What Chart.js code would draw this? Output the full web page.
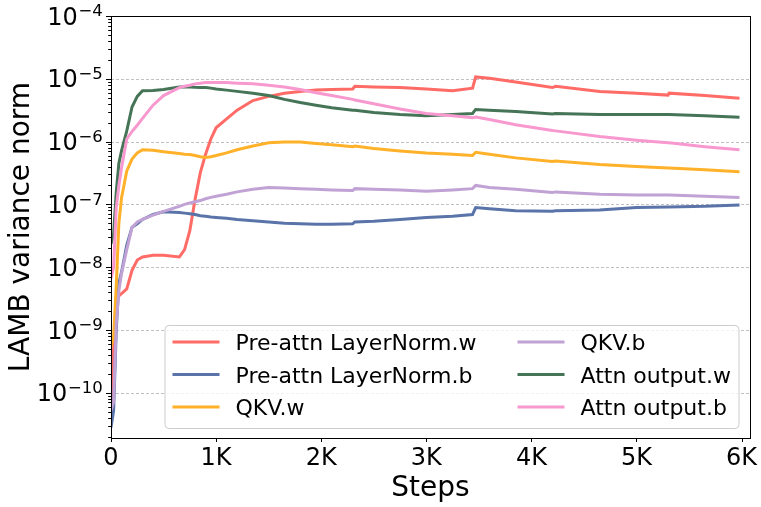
<!DOCTYPE html>
<html>
<head>
<meta charset="utf-8">
<title>LAMB variance norm</title>
<script src="https://cdn.jsdelivr.net/npm/chart.js@4.4.1/dist/chart.umd.min.js"></script>
<style>
  html, body { margin: 0; padding: 0; background: #fff; }
  #wrap { width: 761px; height: 507px; }
</style>
</head>
<body>
<div id="wrap"><canvas id="lambChart"></canvas></div>
<script>
// Pas d'entraînement (abscisse commune)
const steps = [0, 25, 50, 75, 100, 150, 200, 250, 300, 400, 500, 650, 700, 750, 800, 850, 900, 950, 1000, 1100,
  1200, 1350, 1500, 1650, 1800, 1950, 2100, 2300, 2320, 2500, 2750, 3000, 3250, 3440, 3470, 3600, 3850, 4200, 4230,
  4650, 5000, 5300, 5310, 5650, 5980];

// Valeurs
const preAttnLnW = [5.0e-11, 5.0e-10, 3.2e-9, 3.5e-9, 3.8e-9, 4.5e-9, 8.9e-9, 1.3e-8, 1.45e-8, 1.55e-8, 1.55e-8,
  1.45e-8, 1.9e-8, 3.8e-8, 1.2e-7, 3.2e-7, 6.3e-7, 1.1e-6, 1.66e-6, 2.3e-6, 3.16e-6, 4.5e-6, 5.25e-6, 5.9e-6, 6.3e-6,
  6.6e-6, 6.75e-6, 6.9e-6, 7.6e-6, 7.4e-6, 7.25e-6, 6.9e-6, 6.45e-6, 7.1e-6, 1.07e-5, 1.02e-5, 8.9e-6, 7.25e-6, 7.6e-6,
  6.3e-6, 5.9e-6, 5.5e-6, 5.9e-6, 5.4e-6, 4.9e-6];
const preAttnLnB = [2.8e-11, 5.25e-11, 1.0e-9, 5.6e-9, 8.3e-9, 2.24e-8, 4.3e-8, 4.9e-8, 5.75e-8, 6.9e-8, 7.6e-8,
  7.4e-8, 7.25e-8, 7.1e-8, 6.9e-8, 6.6e-8, 6.45e-8, 6.3e-8, 6.2e-8, 6.0e-8, 5.75e-8, 5.5e-8, 5.25e-8, 5.0e-8, 4.9e-8,
  4.8e-8, 4.8e-8, 4.9e-8, 5.25e-8, 5.4e-8, 5.75e-8, 6.2e-8, 6.45e-8, 6.9e-8, 8.9e-8, 8.5e-8, 7.9e-8, 7.75e-8, 7.9e-8,
  8.1e-8, 8.9e-8, 9.1e-8, 9.1e-8, 9.3e-8, 9.8e-8];
const qkvW = [5.4e-10, 7.9e-10, 5.0e-9, 5.0e-8, 1.26e-7, 3.4e-7, 5.25e-7, 6.6e-7, 7.4e-7, 7.25e-7, 6.9e-7,
  6.45e-7, 6.3e-7, 6.2e-7, 6.0e-7, 5.75e-7, 5.6e-7, 5.75e-7, 6.0e-7, 6.6e-7, 7.4e-7, 8.5e-7, 9.55e-7, 9.8e-7, 9.8e-7,
  9.3e-7, 8.9e-7, 8.3e-7, 8.5e-7, 7.75e-7, 7.1e-7, 6.6e-7, 6.3e-7, 6.0e-7, 6.75e-7, 6.3e-7, 5.5e-7, 4.8e-7, 4.9e-7,
  4.3e-7, 4.0e-7, 3.8e-7, 3.8e-7, 3.55e-7, 3.3e-7];
const qkvB = [5.25e-11, 7.1e-11, 1.26e-9, 4.2e-9, 7.9e-9, 1.9e-8, 4.3e-8, 5.25e-8, 5.75e-8, 6.75e-8, 7.75e-8,
  9.3e-8, 1.0e-7, 1.05e-7, 1.1e-7, 1.15e-7, 1.23e-7, 1.29e-7, 1.35e-7, 1.45e-7, 1.58e-7, 1.74e-7, 1.86e-7, 1.82e-7, 1.78e-7,
  1.74e-7, 1.7e-7, 1.66e-7, 1.78e-7, 1.74e-7, 1.7e-7, 1.62e-7, 1.7e-7, 1.78e-7, 2.0e-7, 1.86e-7, 1.74e-7, 1.55e-7, 1.58e-7,
  1.45e-7, 1.41e-7, 1.41e-7, 1.41e-7, 1.35e-7, 1.29e-7];
const attnOutW = [2.34e-8, 3.4e-8, 1.58e-7, 4.5e-7, 7.1e-7, 1.48e-6, 3.55e-6, 5.25e-6, 6.45e-6, 6.5e-6, 6.75e-6,
  7.4e-6, 7.4e-6, 7.4e-6, 7.3e-6, 7.25e-6, 7.25e-6, 7.1e-6, 6.9e-6, 6.6e-6, 6.3e-6, 5.9e-6, 5.4e-6, 4.7e-6, 4.2e-6,
  3.8e-6, 3.45e-6, 3.16e-6, 3.16e-6, 2.9e-6, 2.7e-6, 2.57e-6, 2.7e-6, 2.8e-6, 3.25e-6, 3.16e-6, 3.0e-6, 2.75e-6, 2.8e-6,
  2.7e-6, 2.7e-6, 2.7e-6, 2.7e-6, 2.57e-6, 2.45e-6];
const attnOutB = [6.6e-9, 1.0e-8, 8.9e-8, 2.0e-7, 3.8e-7, 1.1e-6, 1.45e-6, 1.82e-6, 2.34e-6, 3.8e-6, 5.4e-6,
  7.25e-6, 7.6e-6, 7.9e-6, 8.3e-6, 8.5e-6, 8.7e-6, 8.7e-6, 8.7e-6, 8.7e-6, 8.5e-6, 8.3e-6, 7.9e-6, 7.4e-6, 6.75e-6,
  6.0e-6, 5.4e-6, 4.7e-6, 4.6e-6, 4.0e-6, 3.3e-6, 2.8e-6, 2.57e-6, 2.4e-6, 2.45e-6, 2.24e-6, 1.86e-6, 1.5e-6, 1.48e-6,
  1.2e-6, 1.05e-6, 9.55e-7, 9.55e-7, 8.3e-7, 7.4e-7];

const seriesLabels = ['Pre-attn LayerNorm.w', 'Pre-attn LayerNorm.b', 'QKV.w', 'QKV.b', 'Attn output.w', 'Attn output.b'];
const seriesColors = ['#ff6b66', '#5a74a9', '#ffb12a', '#c0a2d5', '#457457', '#f799cf'];

// Graduations
const xTicks = [0, 1000, 2000, 3000, 4000, 5000, 6000];
const xTickLabels = ['0', '1K', '2K', '3K', '4K', '5K', '6K'];
const yTicks = [1e-10, 1e-9, 1e-8, 1e-7, 1e-6, 1e-5, 1e-4];
const yTickExponents = ['−10', '−9', '−8', '−7', '−6', '−5', '−4'];

const yMin = 1.9e-11, yMax = 1e-4;
const xMax = 6080;

Chart.defaults.font.family = '"DejaVu Sans", sans-serif';
Chart.defaults.color = '#000';

// Petites graduations du log
function minorTicks() {
  const out = [];
  for (let e = -12; e <= -5; e++) {
    for (let m = 2; m <= 9; m++) {
      const v = m * Math.pow(10, e);
      if (v > yMin && v < yMax) out.push(v);
    }
  }
  return out;
}

const allSeries = [preAttnLnW, preAttnLnB, qkvW, qkvB, attnOutW, attnOutB];
const datasets = allSeries.map((vals, i) => ({
  label: seriesLabels[i],
  data: steps.map((s, j) => ({ x: s, y: vals[j] })),
  borderColor: seriesColors[i],
  backgroundColor: seriesColors[i],
  borderWidth: 3,
  pointRadius: 0,
  tension: 0,
  fill: false,
  order: allSeries.length - i
}));

// Grille, cadre, graduations et légende
const decor = {
  id: 'decor',
  beforeDatasetsDraw(chart) {
    const { ctx, chartArea: a, scales: { y } } = chart;
    ctx.save();
    ctx.strokeStyle = '#b0b0b0';
    ctx.lineWidth = 0.8;
    ctx.setLineDash([3, 2]);
    yTicks.slice(0, -1).forEach(v => {
      const py = Math.round(y.getPixelForValue(v)) + 0.5;
      ctx.beginPath();
      ctx.moveTo(a.left, py);
      ctx.lineTo(a.right, py);
      ctx.stroke();
    });
    ctx.restore();
  },
  afterDatasetsDraw(chart) {
    const { ctx, chartArea: a, scales: { x, y } } = chart;
    ctx.save();
    ctx.strokeStyle = '#000';
    ctx.lineWidth = 1;
    ctx.strokeRect(Math.round(a.left) + 0.5, Math.round(a.top) + 0.5,
      Math.round(a.right - a.left), Math.round(a.bottom - a.top));
    ctx.beginPath();
    yTicks.forEach(v => {
      const py = Math.round(y.getPixelForValue(v)) + 0.5;
      ctx.moveTo(a.left, py);
      ctx.lineTo(a.left - 5, py);
    });
    minorTicks().forEach(v => {
      const py = Math.round(y.getPixelForValue(v)) + 0.5;
      ctx.moveTo(a.left, py);
      ctx.lineTo(a.left - 2.8, py);
    });
    xTicks.forEach(v => {
      const px = Math.round(x.getPixelForValue(v)) + 0.5;
      ctx.moveTo(px, a.bottom);
      ctx.lineTo(px, a.bottom + 4);
    });
    ctx.stroke();

    // étiquettes 10^n de l'axe y
    ctx.fillStyle = '#000';
    ctx.textAlign = 'right';
    ctx.textBaseline = 'alphabetic';
    yTicks.forEach((v, i) => {
      const py = y.getPixelForValue(v);
      const right = a.left - 8.3;
      ctx.font = '16.5px "DejaVu Sans"';
      const ew = ctx.measureText(yTickExponents[i]).width;
      ctx.fillText(yTickExponents[i], right, py + 0.4);
      ctx.font = '24px "DejaVu Sans"';
      ctx.fillText('10', right - ew - 0.5, py + 8.7);
    });
    ctx.restore();
  },
  afterDraw(chart) {
    const { ctx, chartArea: a } = chart;
    const w = 574, h = 103;
    const left = a.right - 11.5 - w, top = a.bottom - 10 - h;
    ctx.save();
    ctx.fillStyle = 'rgba(255,255,255,0.8)';
    ctx.strokeStyle = '#cccccc';
    ctx.lineWidth = 1;
    ctx.beginPath();
    ctx.roundRect(left + 0.5, top + 0.5, w, h, 4);
    ctx.fill();
    ctx.stroke();
    ctx.font = '22px "DejaVu Sans"';
    ctx.textBaseline = 'alphabetic';
    ctx.fillStyle = '#000';
    chart.data.datasets.forEach((ds, i) => {
      const col = Math.floor(i / 3), row = i % 3;
      const cy = top + 17 + row * 32.5;
      const lx = left + 8 + col * 345;
      ctx.strokeStyle = ds.borderColor;
      ctx.lineWidth = 3;
      ctx.beginPath();
      ctx.moveTo(lx, cy);
      ctx.lineTo(lx + 47, cy);
      ctx.stroke();
      ctx.fillText(ds.label, lx + 63, cy + 8);
    });
    ctx.restore();
  }
};

new Chart(document.getElementById('lambChart'), {
  type: 'line',
  data: { datasets: datasets },
  options: {
    responsive: true,
    maintainAspectRatio: false,
    animation: false,
    layout: { padding: { top: 16, right: 11, left: 0, bottom: 0 } },
    plugins: { legend: { display: false }, tooltip: { enabled: false } },
    scales: {
      x: {
        type: 'linear',
        min: 0,
        max: xMax,
        grid: { display: false },
        border: { display: false },
        afterBuildTicks: s => { s.ticks = xTicks.map(v => ({ value: v })); },
        afterFit: s => { s.height = 69; s.paddingRight = 0; s.paddingLeft = 0; },
        ticks: {
          autoSkip: false,
          maxRotation: 0,
          padding: -2,
          font: { size: 24 },
          callback: (v, i) => xTickLabels[i]
        },
        title: { display: true, text: 'Steps', font: { size: 28 }, padding: { top: 0, bottom: 1 } }
      },
      y: {
        type: 'logarithmic',
        min: yMin,
        max: yMax,
        grid: { display: false },
        border: { display: false },
        afterBuildTicks: s => { s.ticks = yTicks.map(v => ({ value: v })); },
        afterFit: s => { s.width = 111; s.paddingTop = 0; s.paddingBottom = 0; },
        ticks: { display: false },
        title: { display: true, text: 'LAMB variance norm', font: { size: 28 }, padding: { top: 5, bottom: 0 } }
      }
    }
  },
  plugins: [decor]
});
</script>
</body>
</html>
